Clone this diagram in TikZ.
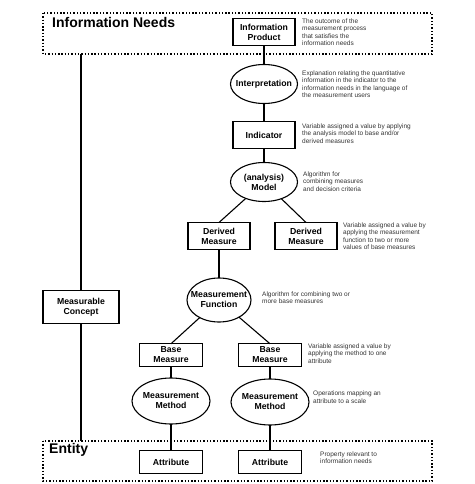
\documentclass[tikz,border=0pt]{standalone}
\usepackage{fontspec}
\setmainfont{Liberation Sans}
\usepackage{tkz-graph}
\usetikzlibrary{shapes.geometric}

\begin{document}
\begin{tikzpicture}[x = 1pt, y = -1pt]
\useasboundingbox (0,0) rectangle (474,484);
\tikzstyle{VertexStyle} = []
\tikzstyle{EdgeStyle} = [line width = 1.1pt]
\tikzstyle{boxStyle} = [shape = rectangle, draw, line width = 1.1pt, minimum width = 62pt, minimum height = 27pt, inner sep = 1pt, align = center, font = {\fontsize{8.7}{10}\selectfont\bfseries}]
\tikzstyle{flatBoxStyle} = [boxStyle, minimum width = 63pt, minimum height = 22.5pt]
\tikzstyle{conceptStyle} = [boxStyle, minimum width = 76pt, minimum height = 33pt]
\tikzstyle{ellipseStyle} = [shape = ellipse, draw, line width = 1.1pt, minimum width = 67pt, minimum height = 39pt, inner xsep = -8pt, inner ysep = 0pt, align = center, font = {\fontsize{8.7}{10}\selectfont\bfseries}]
\tikzstyle{tallEllipseStyle} = [ellipseStyle, minimum width = 64pt, minimum height = 44pt]
\tikzstyle{wideEllipseStyle} = [ellipseStyle, minimum width = 78pt, minimum height = 46pt]
\tikzstyle{noteStyle} = [anchor = north west, align = left, inner sep = 0pt, text = black!80, font = {\fontsize{6.5}{7.3}\selectfont}]
\tikzstyle{titleStyle} = [anchor = base west, inner sep = 0pt, font = {\fontsize{14}{16}\selectfont\bfseries}]
\tikzstyle{frameStyle} = [line width = 1.4pt, dash pattern = on 1.4pt off 1.9pt]
% frames
\draw[frameStyle] (43,13) rectangle (432,54);
\draw[frameStyle] (43,441) rectangle (432,481);
\node[titleStyle] (needsTitle) at (52,28) {Information Needs};
\node[titleStyle] (entityTitle) at (49,453) {Entity};
\coordinate (needsLink) at (81,54);
\coordinate (entityLink) at (81,441);
% vertices
\Vertex[style = boxStyle, x = 264, y = 32, L = {Information\\Product}]{IP}
\Vertex[style = ellipseStyle, x = 264, y = 84, L = {Interpretation}]{Interp}
\Vertex[style = boxStyle, x = 264, y = 135, L = {Indicator}]{Ind}
\Vertex[style = ellipseStyle, x = 264, y = 182, L = {(analysis)\\Model}]{Model}
\Vertex[style = boxStyle, x = 219, y = 236, L = {Derived\\Measure}]{DM1}
\Vertex[style = boxStyle, x = 306, y = 236, L = {Derived\\Measure}]{DM2}
\Vertex[style = tallEllipseStyle, x = 219, y = 300, L = {Measurement\\Function}]{MF}
\Vertex[style = conceptStyle, x = 81, y = 307, L = {Measurable\\Concept}]{MC}
\Vertex[style = flatBoxStyle, x = 171, y = 355, L = {Base\\Measure}]{BM1}
\Vertex[style = flatBoxStyle, x = 270, y = 355, L = {Base\\Measure}]{BM2}
\Vertex[style = wideEllipseStyle, x = 171, y = 401, L = {Measurement\\Method}]{MM1}
\Vertex[style = wideEllipseStyle, x = 270, y = 402, L = {Measurement\\Method}]{MM2}
\Vertex[style = flatBoxStyle, x = 171, y = 462, L = {Attribute}]{A1}
\Vertex[style = flatBoxStyle, x = 270, y = 462, L = {Attribute}]{A2}
% edges
\Edge(IP)(Interp)
\Edge(Interp)(Ind)
\Edge(Ind)(Model)
\Edge(Model)(DM1.north)
\Edge(Model)(DM2.north)
\Edge(DM1)(MF)
\Edge(MF)(BM1.north)
\Edge(MF)(BM2.north)
\Edge(BM1)(MM1)
\Edge(BM2)(MM2)
\Edge(MM1)(A1)
\Edge(MM2)(A2)
\Edge(needsLink)(MC)
\Edge(MC)(entityLink)
% notes
\node[noteStyle] (noteIP) at (302,18.5) {The outcome of the\\measurement process\\that satisfies the\\information needs};
\node[noteStyle] (noteInterp) at (302,70.5) {Explanation relating the quantitative\\information in the indicator to the\\information needs in the language of\\the measurement users};
\node[noteStyle] (noteInd) at (302,123.5) {Variable assigned a value by applying\\the analysis model to base and/or\\derived measures};
\node[noteStyle] (noteModel) at (303,171.5) {Algorithm for\\combining measures\\and decision criteria};
\node[noteStyle] (noteDM) at (343,222.5) {Variable assigned a value by\\applying the measurement\\function to two or more\\values of base measures};
\node[noteStyle] (noteMF) at (262,291.5) {Algorithm for combining two or\\more base measures};
\node[noteStyle] (noteBM) at (308,343.5) {Variable assigned a value by\\applying the method to one\\attribute};
\node[noteStyle] (noteMM) at (313,391) {Operations mapping an\\attribute to a scale};
\node[noteStyle] (noteA) at (320,451.5) {Property relevant to\\information needs};
\end{tikzpicture}
\end{document}
